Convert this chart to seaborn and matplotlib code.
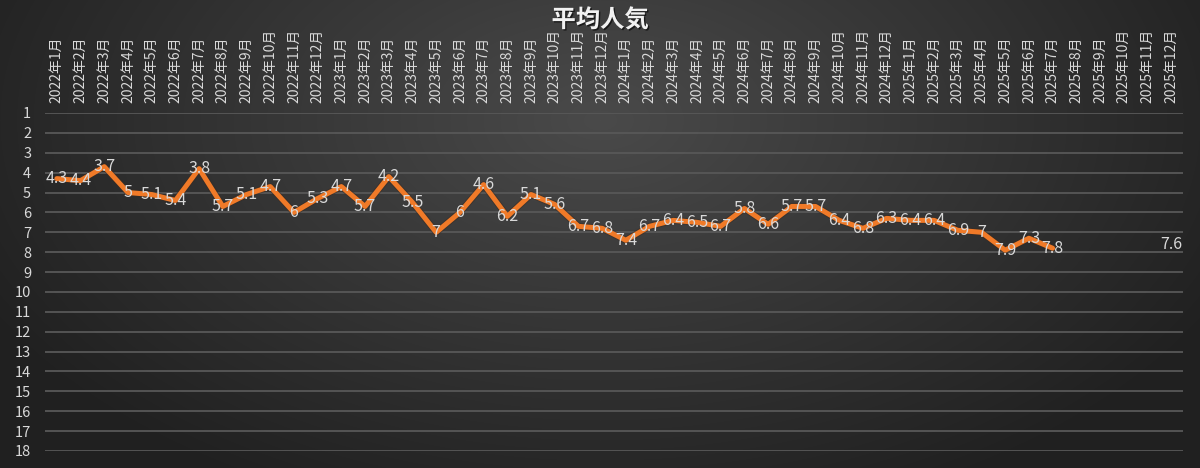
import numpy as np
import pandas as pd
import matplotlib
matplotlib.use("Agg")
import matplotlib.pyplot as plt
import matplotlib.patheffects as pe
import seaborn as sns

# ---- data ----
years = [2022, 2023, 2024, 2025]
categories = [f"{y}年{m}月" for y in years for m in range(1, 13)]
values = [
    4.3, 4.4, 3.7, 5, 5.1, 5.4, 3.8, 5.7, 5.1, 4.7, 6, 5.3,
    4.7, 5.7, 4.2, 5.5, 7, 6, 4.6, 6.2, 5.1, 5.6, 6.7, 6.8,
    7.4, 6.7, 6.4, 6.5, 6.7, 5.8, 6.6, 5.7, 5.7, 6.4, 6.8, 6.3,
    6.4, 6.4, 6.9, 7, 7.9, 7.3, 7.8,
]
extra_category = "2025年12月"
extra_value = 7.6
y_ticks = list(range(1, 19))
title = "平均人気"

sns.set_theme(style="dark")
plt.rcParams["font.family"] = ["Noto Sans CJK JP", "DejaVu Sans"]

W, H, DPI = 1200, 468, 100
fig = plt.figure(figsize=(W / DPI, H / DPI), dpi=DPI)

# background radial gradient
bg = fig.add_axes([0, 0, 1, 1], zorder=0)
yy, xx = np.mgrid[0:H, 0:W]
r = np.sqrt(((xx - 600) / 700.0) ** 2 + ((yy - 120) / 420.0) ** 2)
r = np.clip(r, 0, 1)
c0 = np.array([0x4a, 0x4a, 0x4a]) / 255.0
c1 = np.array([0x20, 0x20, 0x20]) / 255.0
img = c0[None, None, :] * (1 - r[..., None]) + c1[None, None, :] * r[..., None]
bg.imshow(img, aspect="auto", extent=[0, 1, 0, 1])
bg.axis("off")

left, right = 45 / W, 1183 / W
bottom, top = (H - 451) / H, (H - 113) / H
ax = fig.add_axes([left, bottom, right - left, top - bottom], zorder=1)
ax.set_facecolor("none")

df = pd.DataFrame({"idx": np.arange(len(values)), "value": values})
sns.lineplot(data=df, x="idx", y="value", ax=ax, color="#F07A28", lw=3.6,
             zorder=3,
             path_effects=[pe.Stroke(linewidth=5.0, foreground="#3a2a20", alpha=0.5),
                           pe.Normal()])

label_color = "#D9D9D9"
for i, v in enumerate(values):
    ax.text(i, v, f"{v:g}", ha="center", va="center", fontsize=11.5,
            color=label_color, zorder=4)
ax.text(categories.index(extra_category), extra_value, f"{extra_value:g}",
        ha="center", va="center", fontsize=11.5, color=label_color, zorder=4)

ax.set_xlim(-0.5, len(categories) - 0.5)
ax.set_ylim(18, 1)
ax.set_yticks(y_ticks)
ax.set_yticklabels([str(t) for t in y_ticks], fontsize=10.5, color=label_color)
ax.set_xticks(range(len(categories)))
ax.set_xticklabels(categories, rotation=90, fontsize=10, color=label_color)
ax.xaxis.tick_top()
ax.tick_params(axis="x", which="both", length=0, pad=7, top=False, bottom=False)
ax.tick_params(axis="y", length=0, pad=10)
ax.grid(axis="y", color="#585858", lw=1.3)
ax.grid(axis="x", visible=False)
for s in ax.spines.values():
    s.set_visible(False)
ax.set_xlabel("")
ax.set_ylabel("")

fig.text(0.5, (H - 20) / H, title, ha="center", va="center", fontsize=17.5,
         fontweight="bold", color="#F2F2F2",
         path_effects=[pe.withSimplePatchShadow(offset=(1, -1), shadow_rgbFace="black", alpha=0.6)])

fig.savefig("out.png", dpi=DPI)
